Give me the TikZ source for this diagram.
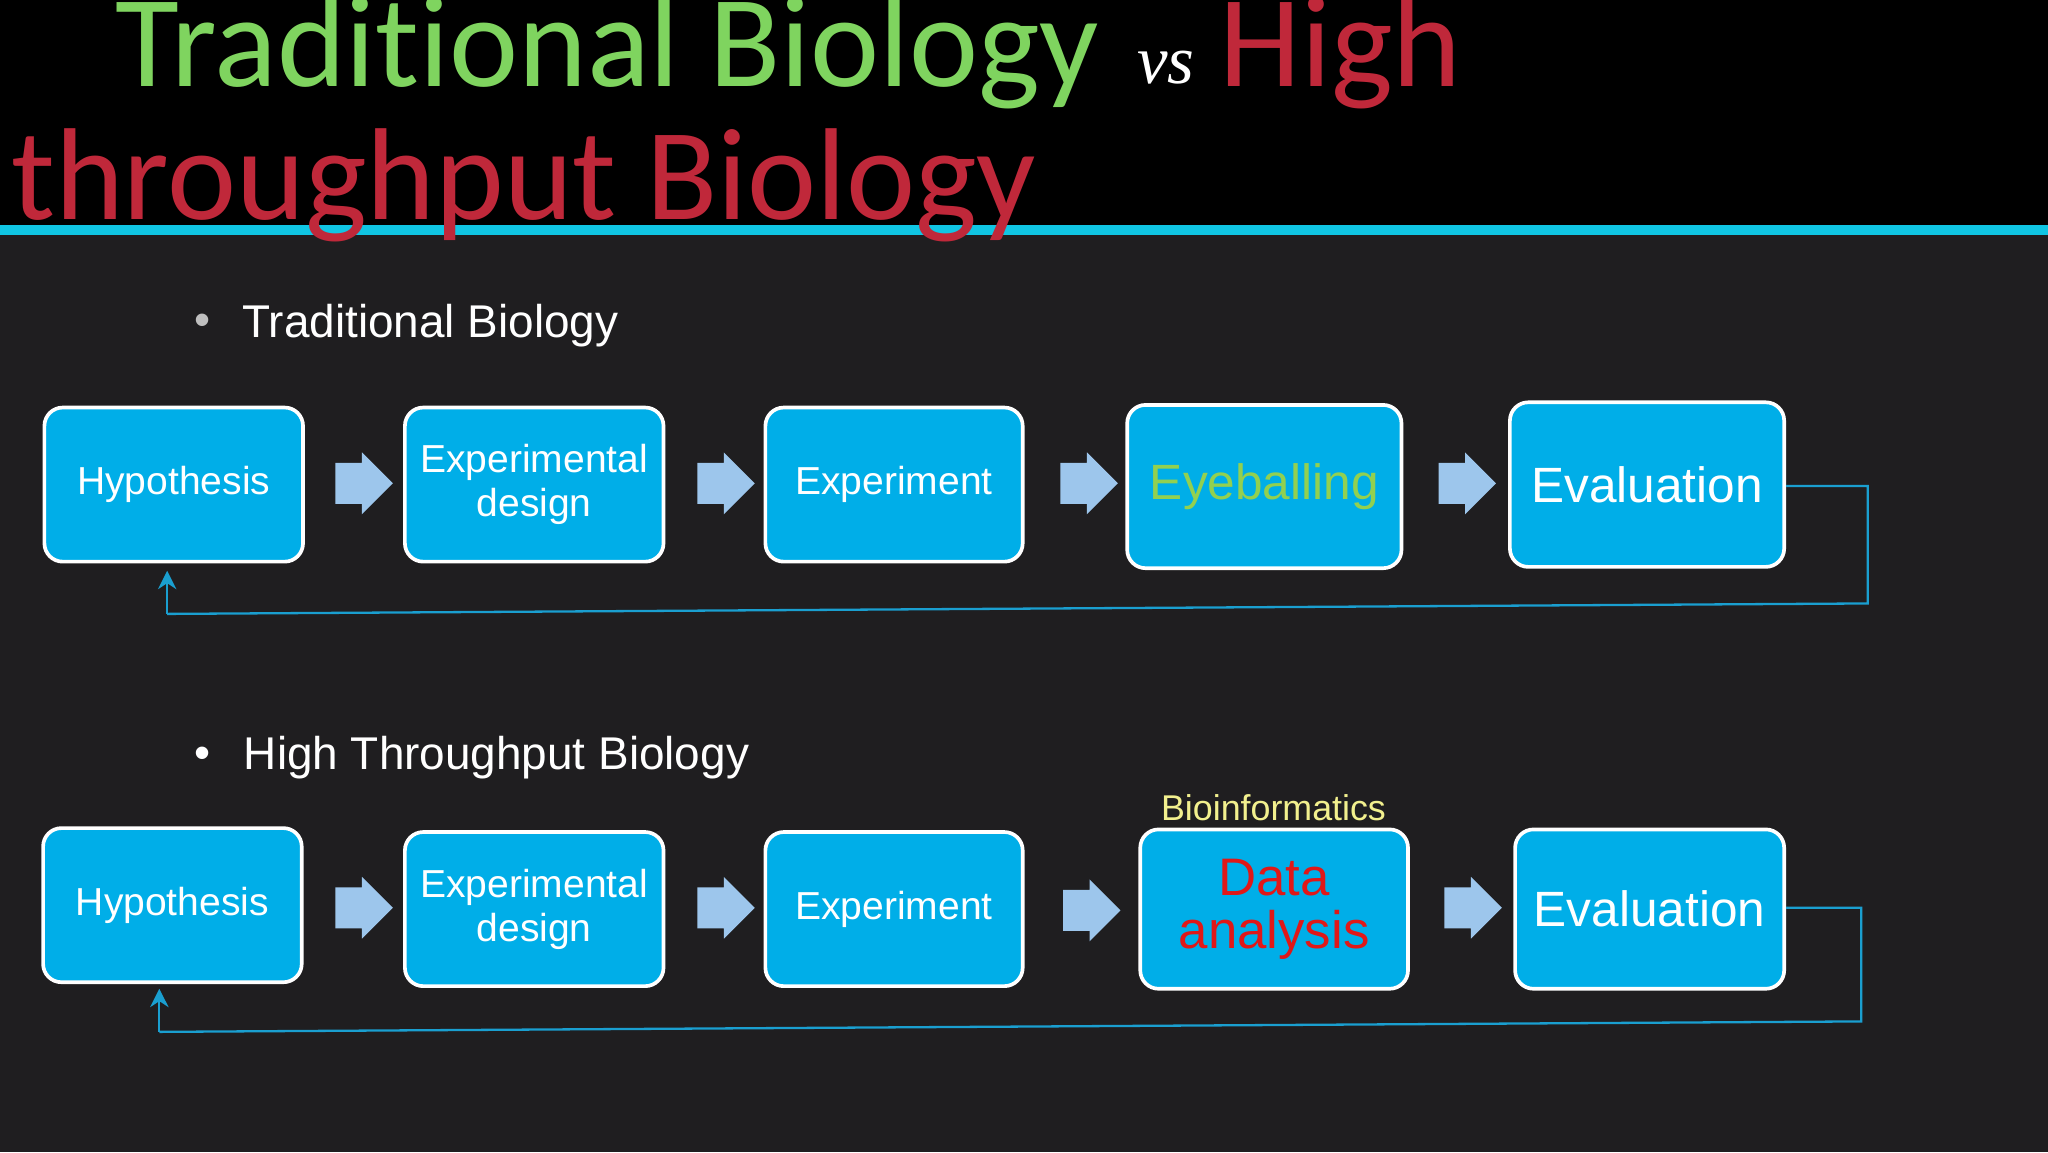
\documentclass[tikz,border=0pt]{standalone}
\usepackage{fontspec}
\setmainfont{Liberation Sans}
\newfontfamily\titlefont[Ligatures=NoCommon]{Carlito}
\newfontfamily\serifit{Liberation Serif}
\usetikzlibrary{shapes.arrows,arrows.meta}
\definecolor{bg}{HTML}{1F1E20}
\definecolor{boxblue}{HTML}{00AEE8}
\definecolor{arrowblue}{HTML}{9DC6EC}
\definecolor{linkblue}{HTML}{1A9FD0}
\definecolor{tgreen}{HTML}{7FD45F}
\definecolor{tred}{HTML}{C0283A}
\definecolor{eyegreen}{HTML}{92D050}
\definecolor{dared}{HTML}{E01818}
\definecolor{bioyellow}{HTML}{F2F08E}
\tikzset{
 stepbox/.style={draw=white, line width=0.8pt, fill=boxblue, rounded corners=4pt, text=white, align=center, font=\fontsize{8.5}{9.6}\selectfont, inner sep=0pt},
 blockarrow/.style={single arrow, fill=arrowblue, draw=none, minimum height=0.44cm, minimum width=0.46cm, single arrow head extend=0.08cm, inner xsep=0pt, inner ysep=0.15cm, text height=0pt, text depth=0pt},
 feedback/.style={draw=linkblue, line width=0.5pt},
}
\begin{document}
\begin{tikzpicture}
\useasboundingbox (0,0) rectangle (15.68,-8.82);
\fill[bg] (0,0) rectangle (15.68,-8.82);
\fill[black] (0,0) rectangle (15.68,-1.72);
\fill[linkblue!60!cyan] (0,-1.72) rectangle (15.68,-1.80);
% title
\node[anchor=base west, inner sep=0pt, text=tgreen, font=\titlefont\fontsize{28.5}{30}\selectfont] (t1) at (0.88,-0.66) {Traditional Biology};
\node[anchor=base west, inner sep=0pt, text=white, font=\serifit\itshape\fontsize{15}{16}\selectfont] (tvs) at (8.70,-0.64) {vs};
\node[anchor=base west, inner sep=0pt, text=tred, font=\titlefont\fontsize{28.5}{30}\selectfont] (t2) at (9.33,-0.66) {High};
\node[anchor=base west, inner sep=0pt, text=tred, font=\titlefont\fontsize{28.5}{30}\selectfont] (t3) at (0.08,-1.68) {throughput Biology};
% bullets
\node[anchor=west, inner sep=0pt, text=white!75!black, font=\fontsize{10}{12}\selectfont] (b1) at (1.48,-2.49) {•};
\node[anchor=west, inner sep=0pt, text=white, font=\fontsize{10}{12}\selectfont] (l1) at (1.85,-2.49) {Traditional Biology};
\node[anchor=west, inner sep=0pt, text=white, font=\fontsize{10}{12}\selectfont] (b2) at (1.48,-5.80) {•};
\node[anchor=west, inner sep=0pt, text=white, font=\fontsize{10}{12}\selectfont] (l2) at (1.86,-5.80) {High Throughput Biology};
% row 1
\node[stepbox, minimum width=1.98cm, minimum height=1.18cm] (h1) at (1.33,-3.71) {Hypothesis};
\node[stepbox, minimum width=1.98cm, minimum height=1.18cm] (d1) at (4.09,-3.71) {Experimental\\design};
\node[stepbox, minimum width=1.97cm, minimum height=1.18cm] (e1) at (6.845,-3.71) {Experiment};
\node[stepbox, minimum width=2.10cm, minimum height=1.25cm, text=eyegreen, font=\fontsize{10.8}{12}\selectfont] (y1) at (9.68,-3.725) {Eyeballing};
\node[stepbox, minimum width=2.10cm, minimum height=1.26cm, font=\fontsize{10.8}{12}\selectfont] (v1) at (12.61,-3.71) {Evaluation};
\node[blockarrow] (a11) at (2.71,-3.70) {};
\node[blockarrow] (a12) at (5.48,-3.70) {};
\node[blockarrow] (a13) at (8.26,-3.70) {};
\node[blockarrow] (a14) at (11.155,-3.70) {};
\coordinate (f1a) at (14.30,-3.72);
\coordinate (f1b) at (14.30,-4.62);
\coordinate (f1c) at (1.28,-4.70);
\coordinate (f1d) at (1.28,-4.37);
\draw[feedback] (v1.east |- f1a) -- (f1a) -- (f1b) -- (f1c);
\draw[feedback, -{Stealth[length=4pt,width=4pt]}] (f1c) -- (f1d);
% row 2
\node[stepbox, minimum width=1.98cm, minimum height=1.18cm] (h2) at (1.32,-6.93) {Hypothesis};
\node[stepbox, minimum width=1.98cm, minimum height=1.18cm] (d2) at (4.09,-6.96) {Experimental\\design};
\node[stepbox, minimum width=1.97cm, minimum height=1.18cm] (e2) at (6.845,-6.96) {Experiment};
\node[stepbox, minimum width=2.05cm, minimum height=1.22cm, text=dared, font=\fontsize{11.5}{11.5}\selectfont] (x2) at (9.755,-6.96) {Data\\analysis};
\node[stepbox, minimum width=2.06cm, minimum height=1.22cm, font=\fontsize{10.8}{12}\selectfont] (v2) at (12.63,-6.96) {Evaluation};
\node[anchor=base, inner sep=0pt, text=bioyellow, font=\fontsize{7.8}{9}\selectfont] (bio) at (9.75,-6.28) {Bioinformatics};
\node[blockarrow] (a21) at (2.71,-6.95) {};
\node[blockarrow] (a22) at (5.48,-6.95) {};
\node[blockarrow] (a23) at (8.28,-6.97) {};
\node[blockarrow] (a24) at (11.20,-6.95) {};
\coordinate (f2a) at (14.25,-6.95);
\coordinate (f2b) at (14.25,-7.82);
\coordinate (f2c) at (1.22,-7.90);
\coordinate (f2d) at (1.22,-7.57);
\draw[feedback] (v2.east |- f2a) -- (f2a) -- (f2b) -- (f2c);
\draw[feedback, -{Stealth[length=4pt,width=4pt]}] (f2c) -- (f2d);
\end{tikzpicture}
\end{document}
